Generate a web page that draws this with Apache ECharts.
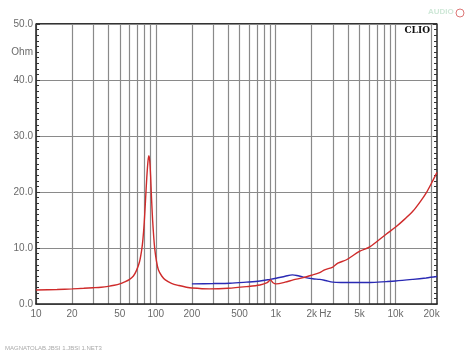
<!DOCTYPE html>
<html><head><meta charset="utf-8">
<script src="https://cdn.jsdelivr.net/npm/echarts@6/dist/echarts.min.js"></script>
<style>html,body{margin:0;padding:0;background:#fff}#c{width:474px;height:355px}</style>
</head><body><div id="c"></div>
<script>
// Red curve (impedance, Ohm vs Hz)
const redFreq = [10,15,20,25,30,35,40,45,50,55,60,65,69,73,76,78,80,82,84,86,87.5,89,90.5,92,94,96,98,101,105,112,120,135,156,180,200,280,400,570,740,850,905,950,1010,1200,1400,1700,2040,2330,2560,3000,3300,3900,5000,6100,8400,10100,12000,14000,16000,18000,20000,22200];
const redOhm  = [2.5,2.6,2.7,2.8,2.9,3.0,3.15,3.35,3.6,3.95,4.35,5.0,6.0,7.5,9.5,11.5,14.5,18.5,22.5,25.5,26.5,25.5,22.8,19,15,12,9.8,7.8,6.1,5.0,4.3,3.7,3.3,3.0,2.85,2.7,2.8,3.1,3.4,3.8,4.3,3.8,3.6,3.9,4.3,4.7,5.2,5.6,6.1,6.6,7.3,7.9,9.4,10.2,12.5,13.8,15.2,16.6,18.2,19.8,21.6,23.5];
// Blue curve
const blueFreq = [200,300,414,570,740,900,1010,1200,1380,1500,1700,2040,2330,2600,3000,3500,5000,6100,8400,10000,14000,18000,22200];
const blueOhm  = [3.6,3.65,3.7,3.9,4.1,4.4,4.6,4.95,5.2,5.1,4.8,4.5,4.4,4.2,3.9,3.85,3.85,3.85,4.0,4.1,4.4,4.65,4.9];
// Axes
const xGridValues = [10,20,30,40,50,60,70,80,90,100,200,300,400,500,600,700,800,900,1000,2000,3000,4000,5000,6000,7000,8000,9000,10000,20000];
const xLabelValues = [10,20,50,100,200,500,1000,2000,2600,5000,10000,20000];
const xLabelText   = ['10','20','50','100','200','500','1k','2k','Hz','5k','10k','20k'];
const yLabelValues = [0,10,20,30,40,45,50];
const yLabelText   = ['0.0','10.0','20.0','30.0','40.0','Ohm','50.0'];

const zip = (a,b)=>a.map((v,i)=>[v,b[i]]);
const chart = echarts.init(document.getElementById('c'), null, {renderer:'canvas'});
chart.setOption({
  animation:false,
  backgroundColor:'#fff',
  grid: {left:36, right:37, top:24, bottom:51},
  xAxis: {
    type:'log', logBase:10, min:10, max:22200,
    axisLine:{show:true, lineStyle:{color:'#222', width:1.5}},
    axisTick:{show:false, customValues:xGridValues},
    splitLine:{show:true, lineStyle:{color:'#8a8a8a', width:1.2}},
    axisLabel:{customValues:xLabelValues, color:'#6a6a6a', fontSize:10, fontFamily:'Liberation Sans, Arial', margin:5,
      formatter:(v)=>{const i=xLabelValues.findIndex(x=>Math.abs(x-v)<1e-6*x); return i>=0?xLabelText[i]:'';}},
    minorTick:{show:false}, minorSplitLine:{show:false}
  },
  yAxis: [{
    type:'value', min:0, max:50, interval:10,
    axisLine:{show:true, lineStyle:{color:'#222', width:1.5}},
    axisTick:{show:true, inside:true, length:4, lineStyle:{color:'#333'}},
    minorTick:{show:true, splitNumber:10, length:3, lineStyle:{color:'#333'}},
    splitLine:{show:true, lineStyle:{color:'#8a8a8a', width:1.2}},
    axisLabel:{customValues:yLabelValues, color:'#6a6a6a', fontSize:10, fontFamily:'Liberation Sans, Arial', margin:3,
      formatter:(v)=>{const i=yLabelValues.indexOf(v); return i>=0?yLabelText[i]:'';}}
  },{
    type:'value', min:0, max:50, interval:10, position:'right',
    axisLine:{show:true, lineStyle:{color:'#222', width:1.5}},
    axisTick:{show:true, inside:true, length:4, lineStyle:{color:'#333'}},
    minorTick:{show:true, splitNumber:10, length:3, lineStyle:{color:'#333'}},
    splitLine:{show:false}, axisLabel:{show:false}
  }],
  series: [
    {type:'line', data:zip(redFreq,redOhm), showSymbol:false, smooth:0.3, lineStyle:{color:'#cf2b2b', width:1.4}, z:3},
    {type:'line', data:zip(blueFreq,blueOhm), showSymbol:false, smooth:0.3, lineStyle:{color:'#2a2ab4', width:1.4}, z:2}
  ],
  graphic: [
    {type:'line', shape:{x1:36, y1:24, x2:437, y2:24}, style:{stroke:'#333', lineWidth:2}},
    {type:'text', right:44, top:26, style:{text:'CLIO', font:'bold 9px "DejaVu Serif", serif', fill:'#111'}},
    {type:'text', left:428, top:8, style:{text:'AUDIO', font:'bold 8px "Liberation Sans", Arial', fill:'#cfe8d8'}},
    {type:'circle', shape:{cx:460, cy:13, r:4}, style:{stroke:'#d77', fill:'none', lineWidth:1}},
    {type:'text', left:5, top:345, style:{text:'MAGNATOLAB.JBSI 1.JBSI 1.NET3', font:'6px "Liberation Sans", Arial', fill:'#aaa'}}
  ]
});
</script></body></html>
